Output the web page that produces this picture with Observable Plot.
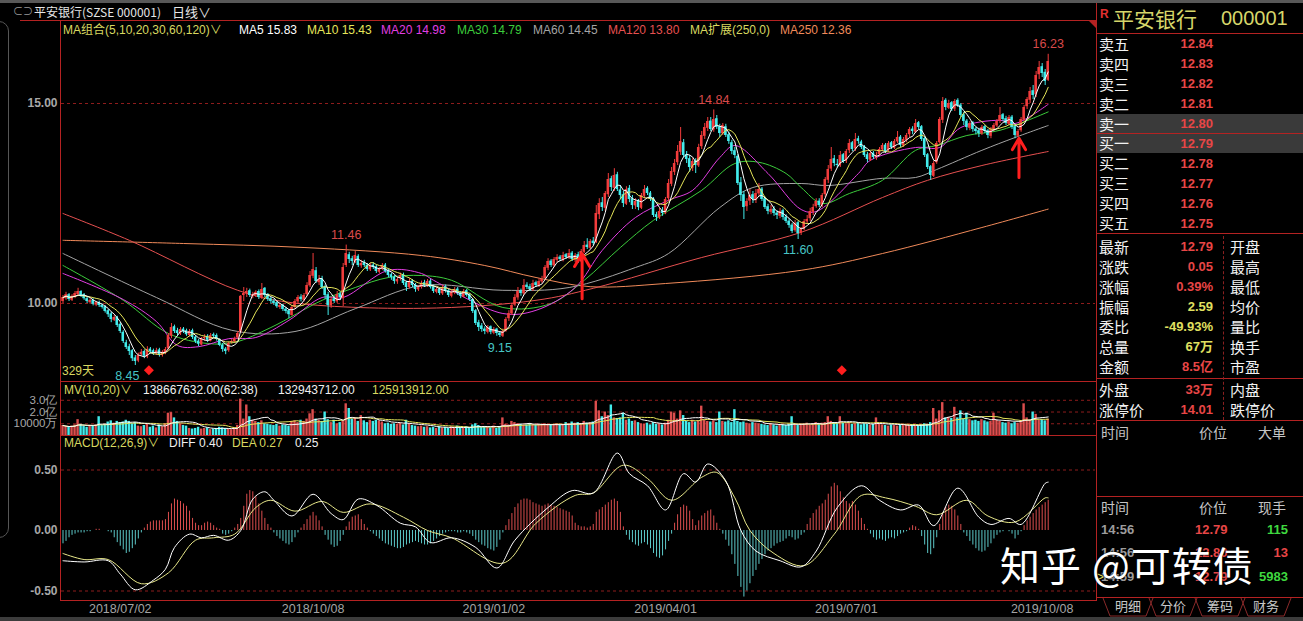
<!DOCTYPE html>
<html><head><meta charset="utf-8">
<script src="https://cdn.jsdelivr.net/npm/d3@7"></script>
<script src="https://cdn.jsdelivr.net/npm/@observablehq/plot@0.6"></script>
<style>
html,body{margin:0;padding:0;background:#000;width:1303px;height:621px;overflow:hidden;}
#root{position:relative;width:1303px;height:621px;background:#000;font-family:"Liberation Sans","Noto Sans CJK SC",sans-serif;overflow:hidden;}
</style></head><body><div id="root"></div>
<script>
// ---------------- DATA ----------------
const open = [
10.05,10.12,10.22,10.08,10.15,10.22,10.30,10.22,10.12,10.02,
10.08,9.96,10.02,9.96,9.92,9.82,9.74,9.58,9.66,9.48,
9.28,9.02,8.92,8.82,8.64,8.56,8.72,8.80,8.66,8.86,
8.82,8.74,8.84,8.70,8.76,8.86,9.18,9.42,9.32,9.24,
9.36,9.32,9.20,9.32,9.16,9.06,8.96,9.12,9.18,9.06,
9.22,9.20,9.10,8.96,8.86,8.82,9.02,9.04,9.14,9.28,
10.20,10.24,10.32,10.18,10.20,10.30,10.14,10.38,10.22,10.12,
10.06,10.02,9.90,9.96,9.86,9.82,9.70,9.90,10.04,10.16,
10.08,10.22,10.44,10.68,10.82,10.52,10.62,10.42,10.22,9.94,
10.12,10.04,10.24,10.12,10.95,11.22,11.12,11.04,11.18,10.94,
11.02,10.96,10.84,10.96,10.92,10.78,10.86,10.96,10.82,10.72,
10.66,10.54,10.62,10.72,10.52,10.40,10.56,10.46,10.34,10.40,
10.52,10.44,10.56,10.42,10.28,10.36,10.24,10.42,10.32,10.18,
10.26,10.36,10.26,10.16,10.32,10.22,10.10,9.82,9.52,9.44,
9.36,9.28,9.42,9.26,9.36,9.26,9.18,9.30,9.62,9.74,
9.96,10.14,10.32,10.24,10.46,10.42,10.34,10.52,10.44,10.54,
10.62,10.88,11.06,10.94,11.08,11.16,11.08,11.22,11.14,11.26,
11.08,11.22,11.04,11.28,11.46,11.38,11.56,11.52,12.22,12.52,
12.38,12.72,13.12,12.88,13.22,12.84,12.72,12.48,12.88,12.62,
12.44,12.56,12.38,12.68,12.88,12.76,12.62,12.22,12.14,12.32,
12.26,12.62,12.98,13.28,13.52,13.78,14.02,13.72,13.62,13.38,
13.56,13.44,13.92,14.18,14.38,14.56,14.34,14.62,14.42,14.24,
14.42,14.22,14.02,13.82,13.68,13.02,12.72,12.42,12.56,12.72,
12.58,12.74,12.86,12.62,12.42,12.28,12.36,12.26,12.18,12.32,
12.16,12.06,11.96,11.82,12.02,11.76,11.86,12.04,12.12,12.28,
12.42,12.56,12.44,12.72,13.08,13.36,13.62,13.48,13.44,13.72,
13.56,13.82,14.02,13.86,14.12,14.04,13.92,13.72,13.58,13.76,
13.64,13.72,13.84,13.96,13.82,14.02,13.88,14.04,14.16,13.94,
14.08,14.22,14.36,14.28,14.52,14.42,14.12,13.72,13.42,13.18,
13.52,14.02,14.58,15.08,14.88,15.02,14.86,15.08,14.96,14.72,
14.56,14.38,14.52,14.36,14.32,14.24,14.42,14.32,14.18,14.34,
14.44,14.56,14.72,14.62,14.48,14.66,14.42,14.18,14.32,14.58,
14.92,15.08,15.32,15.22,15.72,15.92,15.78,15.58];
const close = [
10.15,10.22,10.10,10.18,10.25,10.30,10.20,10.12,10.05,10.08,
9.98,10.02,9.95,9.90,9.80,9.72,9.60,9.65,9.45,9.30,
9.05,8.90,8.80,8.62,8.55,8.70,8.78,8.68,8.85,8.80,
8.75,8.82,8.70,8.78,8.85,9.20,9.40,9.30,9.25,9.35,
9.30,9.22,9.30,9.15,9.05,8.98,9.10,9.15,9.08,9.20,
9.18,9.10,8.95,8.85,8.80,9.00,9.05,9.12,9.25,10.18,
10.25,10.30,10.20,10.22,10.28,10.15,10.35,10.20,10.10,10.05,
10.00,9.92,9.95,9.85,9.80,9.72,9.90,10.05,10.15,10.10,
10.20,10.45,10.70,10.85,10.55,10.60,10.40,10.20,9.95,10.10,
10.05,10.22,10.15,10.90,11.25,11.10,11.05,11.20,10.95,11.00,
10.95,10.85,10.95,10.90,10.80,10.85,10.95,10.80,10.70,10.65,
10.55,10.60,10.70,10.50,10.40,10.55,10.45,10.35,10.40,10.50,
10.45,10.55,10.40,10.30,10.35,10.25,10.40,10.30,10.20,10.28,
10.35,10.25,10.18,10.30,10.20,10.10,9.80,9.50,9.40,9.35,
9.30,9.40,9.28,9.35,9.25,9.20,9.30,9.60,9.75,9.95,
10.15,10.30,10.25,10.45,10.40,10.35,10.50,10.45,10.55,10.60,
10.90,11.05,10.95,11.10,11.15,11.10,11.20,11.15,11.25,11.10,
11.20,11.05,11.30,11.45,11.40,11.55,11.50,12.25,12.50,12.40,
12.75,13.10,12.90,13.20,12.85,12.70,12.50,12.85,12.60,12.45,
12.55,12.40,12.70,12.85,12.75,12.60,12.20,12.15,12.30,12.25,
12.60,13.00,13.30,13.50,13.80,14.05,13.70,13.60,13.40,13.55,
13.45,13.90,14.20,14.40,14.55,14.35,14.60,14.40,14.25,14.45,
14.20,14.05,13.80,13.70,13.00,12.70,12.40,12.55,12.70,12.60,
12.75,12.85,12.60,12.40,12.30,12.35,12.25,12.20,12.30,12.15,
12.05,11.95,11.80,12.00,11.75,11.85,12.05,12.10,12.30,12.40,
12.55,12.45,12.70,13.10,13.35,13.60,13.50,13.45,13.70,13.55,
13.80,14.00,13.85,14.10,14.05,13.90,13.70,13.60,13.75,13.65,
13.70,13.85,13.95,13.80,14.00,13.90,14.05,14.15,13.95,14.10,
14.20,14.35,14.30,14.50,14.40,14.10,13.70,13.40,13.20,13.50,
14.00,14.60,15.05,14.90,15.00,14.85,15.05,14.95,14.70,14.55,
14.40,14.50,14.35,14.30,14.25,14.40,14.30,14.20,14.35,14.45,
14.55,14.70,14.60,14.50,14.65,14.40,14.20,14.30,14.60,14.90,
15.10,15.30,15.20,15.70,15.90,15.75,15.55,16.05];
const high = [
10.20,10.28,10.25,10.22,10.30,10.38,10.32,10.25,10.15,10.12,
10.12,10.05,10.06,9.98,9.95,9.85,9.78,9.70,9.68,9.52,
9.32,9.08,8.98,8.85,8.70,8.76,8.85,8.84,8.92,8.90,
8.86,8.88,8.88,8.82,8.90,9.25,9.50,9.46,9.38,9.40,
9.40,9.36,9.35,9.36,9.20,9.10,9.15,9.22,9.22,9.25,
9.26,9.24,9.12,9.00,8.90,9.04,9.10,9.16,9.30,10.20,
10.40,10.38,10.36,10.28,10.32,10.34,10.50,10.40,10.25,10.15,
10.10,10.06,10.00,9.98,9.90,9.85,9.95,10.10,10.20,10.22,
10.25,10.52,10.80,11.25,10.90,10.70,10.68,10.46,10.28,10.15,
10.18,10.30,10.28,11.00,11.46,11.28,11.18,11.30,11.22,11.08,
11.08,11.00,11.00,11.02,10.96,10.90,11.00,11.00,10.86,10.76,
10.70,10.66,10.76,10.76,10.56,10.62,10.60,10.50,10.45,10.56,
10.58,10.60,10.60,10.46,10.40,10.40,10.45,10.46,10.36,10.32,
10.40,10.40,10.30,10.35,10.35,10.25,10.12,9.85,9.58,9.50,
9.42,9.45,9.44,9.40,9.38,9.30,9.36,9.65,9.82,10.00,
10.22,10.40,10.36,10.60,10.52,10.48,10.58,10.56,10.62,10.68,
10.95,11.12,11.10,11.15,11.22,11.20,11.28,11.25,11.35,11.30,
11.25,11.28,11.35,11.55,11.62,11.60,11.65,12.45,12.62,12.65,
12.80,13.25,13.18,13.37,13.28,12.95,12.80,12.92,12.95,12.70,
12.62,12.60,12.75,12.95,12.92,12.80,12.65,12.28,12.38,12.40,
12.65,13.10,13.40,13.60,13.95,14.40,14.10,13.80,13.70,13.62,
13.62,13.98,14.30,14.50,14.65,14.65,14.84,14.70,14.48,14.50,
14.48,14.28,14.08,13.90,13.72,13.15,12.80,12.62,12.85,12.80,
12.85,13.00,12.90,12.66,12.48,12.45,12.42,12.32,12.38,12.36,
12.22,12.12,12.00,12.08,12.05,11.90,12.10,12.20,12.38,12.48,
12.62,12.62,12.75,13.15,13.45,13.90,13.70,13.60,13.80,13.75,
13.85,14.10,14.05,14.25,14.18,14.08,13.95,13.78,13.80,13.80,
13.78,13.90,14.00,14.00,14.05,14.05,14.10,14.30,14.20,14.15,
14.25,14.40,14.42,14.60,14.55,14.45,14.15,13.75,13.45,13.55,
14.05,14.65,15.15,15.12,15.08,15.05,15.10,15.12,15.00,14.78,
14.60,14.55,14.55,14.40,14.38,14.45,14.45,14.35,14.40,14.50,
14.60,14.90,14.75,14.68,14.70,14.70,14.45,14.35,14.65,14.95,
15.15,15.40,15.45,15.80,16.05,16.00,15.85,16.23];
const low = [
10.00,10.08,10.05,10.05,10.12,10.18,10.15,10.08,10.00,9.98,
9.94,9.92,9.90,9.86,9.76,9.65,9.52,9.55,9.40,9.25,
9.00,8.85,8.70,8.55,8.45,8.52,8.68,8.62,8.62,8.74,
8.70,8.70,8.66,8.66,8.72,8.84,9.12,9.25,9.18,9.20,
9.25,9.18,9.16,9.10,9.00,8.92,8.94,9.06,9.02,9.04,
9.12,9.06,8.92,8.78,8.72,8.78,8.98,9.00,9.10,9.25,
10.05,10.15,10.15,10.12,10.15,10.10,10.10,10.15,10.05,9.98,
9.95,9.88,9.85,9.80,9.74,9.62,9.68,9.86,10.00,10.04,
10.04,10.18,10.40,10.62,10.50,10.45,10.35,10.10,9.70,9.88,
10.00,10.00,10.08,9.92,10.90,11.00,10.95,11.00,10.90,10.88,
10.90,10.80,10.80,10.85,10.75,10.74,10.82,10.76,10.64,10.58,
10.48,10.48,10.56,10.45,10.30,10.36,10.40,10.28,10.30,10.36,
10.40,10.40,10.36,10.25,10.24,10.20,10.20,10.26,10.15,10.14,
10.22,10.20,10.12,10.14,10.16,10.05,9.75,9.45,9.30,9.28,
9.22,9.24,9.22,9.22,9.18,9.15,9.15,9.28,9.55,9.70,
9.92,10.08,10.18,10.20,10.35,10.30,10.30,10.40,10.40,10.50,
10.58,10.82,10.90,10.90,11.02,11.05,11.04,11.10,11.10,11.05,
11.02,11.00,11.02,11.25,11.35,11.34,11.45,11.50,12.10,12.30,
12.30,12.65,12.80,12.80,12.80,12.60,12.40,12.45,12.52,12.35,
12.35,12.32,12.35,12.62,12.70,12.55,12.15,12.05,12.10,12.18,
12.22,12.55,12.92,13.20,13.45,13.70,13.65,13.50,13.28,13.30,
13.25,13.40,13.85,14.10,14.30,14.30,14.28,14.35,14.15,14.20,
14.15,13.98,13.72,13.62,12.95,12.55,12.10,12.30,12.45,12.50,
12.50,12.68,12.55,12.35,12.22,12.22,12.18,12.10,12.12,12.08,
12.00,11.88,11.75,11.78,11.60,11.70,11.82,12.00,12.05,12.20,
12.38,12.40,12.40,12.65,13.00,13.30,13.42,13.38,13.40,13.50,
13.50,13.75,13.80,13.80,13.98,13.85,13.65,13.52,13.55,13.60,
13.58,13.68,13.80,13.75,13.78,13.85,13.85,14.00,13.90,13.90,
14.02,14.15,14.22,14.25,14.35,14.05,13.65,13.35,13.08,13.15,
13.48,13.98,14.50,14.82,14.85,14.80,14.80,14.90,14.65,14.45,
14.32,14.32,14.28,14.22,14.15,14.20,14.25,14.12,14.12,14.30,
14.40,14.50,14.55,14.45,14.45,14.35,14.12,14.15,14.28,14.55,
14.85,15.00,15.10,15.15,15.60,15.65,15.45,15.55];
// volume, in 亿 shares
const volume = [
0.85,0.75,0.70,0.80,0.90,1.35,0.95,0.80,0.70,0.85,
0.80,0.90,1.60,0.85,0.95,1.15,1.25,1.05,1.20,1.10,
1.15,1.30,1.20,1.00,1.10,0.80,0.75,0.85,0.95,0.70,
0.80,0.65,0.90,0.75,1.00,1.90,1.95,1.50,1.20,1.00,
0.85,0.80,0.60,0.55,0.60,0.70,0.55,0.60,0.65,0.50,
0.55,0.60,0.70,0.65,0.60,0.55,0.50,0.65,0.85,3.10,
1.40,2.60,1.60,1.30,1.20,1.10,1.25,1.00,0.95,0.90,
0.85,0.95,0.80,0.90,0.85,0.80,1.20,1.25,1.10,1.30,
1.20,1.40,1.85,2.20,1.40,1.30,1.20,2.00,1.35,1.10,
1.30,1.00,1.10,1.20,2.70,2.30,1.40,1.50,1.20,1.70,
1.25,1.10,1.30,1.20,1.30,1.25,1.15,1.00,1.05,0.95,
1.00,0.95,1.05,0.90,1.30,1.00,0.85,0.80,0.75,0.80,
0.70,0.75,0.65,0.70,0.60,0.75,0.65,0.70,0.60,0.75,
0.65,0.80,0.70,0.60,0.75,0.65,0.90,1.00,0.85,0.70,
0.75,0.70,0.65,0.80,0.60,0.75,1.50,0.95,0.90,1.20,
1.10,1.00,0.95,0.85,0.90,1.00,0.90,0.85,0.95,0.90,
1.00,0.95,0.90,0.85,1.00,0.90,0.95,1.10,1.00,1.15,
1.05,1.10,1.00,1.20,1.05,1.10,1.15,2.90,2.10,1.60,
2.00,1.70,2.60,1.50,1.45,1.50,1.90,1.30,1.40,1.20,
1.25,1.10,1.00,0.95,1.05,0.90,1.10,0.95,1.00,0.90,
1.05,1.30,2.00,1.90,1.40,2.10,1.70,1.20,1.10,1.30,
1.15,1.25,2.50,1.30,1.20,1.15,1.25,1.10,2.00,1.20,
1.15,1.25,1.10,2.20,1.20,1.10,1.15,1.05,1.00,1.10,
1.05,1.00,0.95,0.90,0.85,0.95,0.90,0.80,0.85,0.90,
0.85,0.95,1.60,0.90,0.85,0.95,1.00,1.05,0.90,1.00,
1.10,0.95,1.05,1.10,1.60,1.20,1.10,1.00,1.60,1.05,
1.00,1.10,0.95,1.00,1.05,0.90,1.00,0.95,0.90,0.95,
1.50,1.00,0.90,0.85,0.80,0.90,0.85,0.80,0.90,0.85,
0.95,0.85,0.90,0.80,0.85,0.90,1.00,0.95,1.10,2.30,
1.40,2.10,2.80,1.50,1.55,1.45,2.40,1.50,2.10,1.40,
1.90,1.35,1.25,1.30,1.20,1.35,1.25,1.15,1.20,1.90,
1.30,1.20,1.10,1.05,1.15,1.00,1.10,1.05,1.20,2.70,
1.50,1.30,2.00,1.80,1.30,1.35,1.25,1.39];
// MACD histogram
const macdHist = [
-0.11,-0.09,-0.06,-0.04,-0.03,-0.02,-0.02,-0.02,-0.01,-0.01,
0.00,0.01,0.01,0.00,0.00,-0.01,-0.02,-0.06,-0.10,-0.13,
-0.16,-0.19,-0.18,-0.15,-0.12,-0.07,-0.02,0.02,0.05,0.07,
0.08,0.08,0.08,0.08,0.09,0.15,0.22,0.26,0.25,0.24,
0.22,0.20,0.16,0.10,0.06,0.04,0.04,0.06,0.07,0.06,
0.04,0.02,0.01,-0.03,-0.04,-0.03,-0.01,0.02,0.05,0.10,
0.20,0.30,0.33,0.32,0.28,0.22,0.16,0.10,0.05,0.02,
-0.02,-0.05,-0.07,-0.09,-0.11,-0.12,-0.10,-0.06,-0.02,0.02,
0.05,0.09,0.12,0.15,0.12,0.08,0.03,-0.04,-0.08,-0.12,
-0.14,-0.13,-0.09,-0.04,0.03,0.07,0.11,0.12,0.13,0.09,
0.05,0.02,-0.01,-0.03,-0.05,-0.07,-0.09,-0.11,-0.12,-0.13,
-0.14,-0.15,-0.15,-0.14,-0.12,-0.11,-0.10,-0.09,-0.10,-0.11,
-0.12,-0.12,-0.11,-0.09,-0.07,-0.05,-0.03,-0.02,-0.01,-0.01,
-0.01,-0.02,-0.02,-0.01,-0.02,-0.03,-0.05,-0.08,-0.10,-0.12,
-0.13,-0.15,-0.16,-0.17,-0.14,-0.08,-0.02,0.04,0.09,0.14,
0.19,0.22,0.25,0.26,0.26,0.25,0.23,0.22,0.21,0.20,
0.21,0.22,0.21,0.20,0.19,0.18,0.17,0.16,0.15,0.12,
0.06,0.04,0.03,0.03,0.02,0.03,0.05,0.15,0.17,0.19,
0.21,0.23,0.25,0.26,0.24,0.15,0.03,-0.04,-0.08,-0.10,
-0.12,-0.13,-0.11,-0.10,-0.12,-0.15,-0.19,-0.22,-0.23,-0.21,
-0.16,-0.09,-0.03,0.06,0.13,0.19,0.21,0.20,0.16,0.09,
0.04,0.08,0.12,0.14,0.16,0.17,0.12,0.06,0.01,-0.03,
-0.08,-0.13,-0.20,-0.28,-0.38,-0.47,-0.55,-0.50,-0.44,-0.38,
-0.33,-0.28,-0.24,-0.20,-0.17,-0.15,-0.13,-0.11,-0.10,-0.09,
-0.07,-0.05,-0.06,-0.08,-0.07,-0.04,-0.02,0.05,0.10,0.14,
0.17,0.20,0.22,0.25,0.30,0.36,0.39,0.37,0.32,0.27,
0.24,0.22,0.24,0.21,0.16,0.10,0.05,0.01,-0.03,-0.06,
-0.08,-0.07,-0.08,-0.09,-0.07,-0.06,-0.07,-0.05,-0.03,-0.02,
-0.01,0.02,0.04,0.03,0.01,-0.05,-0.12,-0.19,-0.20,-0.15,
-0.06,0.05,0.14,0.19,0.21,0.20,0.17,0.12,0.05,-0.02,
-0.05,-0.09,-0.12,-0.15,-0.17,-0.18,-0.17,-0.14,-0.11,-0.07,
-0.04,-0.02,-0.01,0.00,-0.01,-0.03,-0.07,-0.04,-0.01,0.04,
0.08,0.11,0.14,0.17,0.19,0.21,0.23,0.25];
// DIFF / DEA read at sample days [day index, value]
const diffPts = [[0,-0.25],[7,-0.26],[15,-0.25],[19,-0.36],[24,-0.49],[30,-0.41],[34,-0.32],[37,-0.14],[42,-0.03],[46,-0.06],[50,-0.04],[55,-0.08],[59,0.0],[63,0.26],[67,0.32],[70,0.25],[76,0.12],[83,0.30],[89,0.14],[93,0.09],[98,0.26],[104,0.21],[112,0.06],[117,0.03],[122,-0.10],[129,-0.06],[137,-0.14],[144,-0.31],[150,-0.08],[161,0.19],[169,0.33],[176,0.31],[184,0.64],[188,0.47],[194,0.37],[200,0.17],[206,0.47],[210,0.40],[214,0.55],[220,0.41],[225,0.0],[230,-0.17],[238,-0.25],[245,-0.30],[250,-0.17],[257,0.19],[265,0.37],[271,0.25],[278,0.17],[284,0.21],[289,0.04],[297,0.35],[304,0.11],[308,0.05],[314,0.10],[318,0.05],[326,0.39],[327,0.40]];
const deaPts = [[0,-0.19],[7,-0.24],[15,-0.24],[26,-0.44],[35,-0.35],[44,-0.08],[50,-0.06],[57,-0.03],[64,0.19],[69,0.25],[77,0.16],[86,0.24],[93,0.15],[102,0.22],[113,0.11],[121,0.0],[129,-0.06],[146,-0.27],[157,0.06],[170,0.29],[176,0.31],[186,0.54],[194,0.43],[202,0.25],[212,0.44],[217,0.48],[223,0.27],[228,0.0],[236,-0.19],[246,-0.29],[256,-0.03],[265,0.29],[273,0.27],[283,0.20],[290,0.13],[300,0.25],[307,0.12],[316,0.07],[326,0.27],[327,0.27]];
// Long moving averages read at sample days [day index, price]
const ma20Pts = [[0,10.75],[20,10.1],[31,9.55],[38,8.95],[45,8.92],[55,9.12],[64,9.15],[75,9.58],[86,10.15],[93,10.15],[108,10.83],[119,10.75],[123,10.58],[146,9.75],[157,9.83],[170,10.4],[179,11.33],[190,12.15],[201,12.58],[209,12.83],[218,13.65],[223,13.95],[234,13.25],[245,12.35],[250,12.3],[264,13.25],[268,13.58],[283,13.9],[291,13.9],[298,14.4],[311,14.58],[316,14.5],[327,14.98]];
const ma30Pts = [[0,10.95],[20,10.08],[35,9.25],[48,9.0],[57,9.03],[69,9.4],[86,10.08],[97,10.4],[108,10.65],[119,10.7],[129,10.58],[146,9.9],[162,10.0],[173,10.58],[185,11.4],[196,12.08],[212,12.83],[223,13.5],[231,13.53],[240,13.25],[245,12.9],[252,12.5],[261,12.75],[272,13.08],[283,13.83],[290,13.95],[300,14.2],[311,14.33],[327,14.79]];
const ma60Pts = [[0,11.25],[31,10.15],[56,9.33],[77,9.3],[97,9.87],[119,10.45],[146,10.33],[168,10.4],[190,10.9],[201,11.25],[218,12.4],[229,12.9],[245,13.0],[254,12.95],[272,13.13],[283,13.15],[290,13.35],[305,13.83],[316,14.15],[327,14.45]];
const ma120Pts = [[0,12.25],[22,11.58],[58,10.33],[75,10.03],[119,9.88],[157,10.08],[176,10.38],[212,11.15],[245,11.78],[272,12.65],[287,13.08],[305,13.45],[327,13.8]];
const ma250Pts = [[0,11.58],[40,11.5],[80,11.4],[119,11.2],[140,10.95],[157,10.65],[175,10.42],[200,10.5],[245,10.83],[272,11.25],[305,11.9],[327,12.36]];
// annotations
const extremeIdx = [24, 94, 145, 216, 244, 327];
const extremeVal = [8.45, 11.46, 9.15, 14.84, 11.60, 16.23];
const extremeIsHigh = [false, true, false, true, false, true];
const extremeShift = [-8, 0, 0, 0, 0, 0];
const arrowIdx = [172.3, 317.3], arrowFrom = [10.12, 13.15], arrowTo = [11.25, 14.13];
const markIdx = [28.5, 258.5];
// ticks
const priceTicks = [10, 15];
const volTicks = [1, 2, 3], volTickLabels = ["10000万", "2.0亿", "3.0亿"];
const macdTicks = [-0.5, 0, 0.5], macdTickLabels = ["-0.50", "0.00", "0.50"];
const dateIdx = [19, 83, 143, 200, 260, 325];
const dateLabels = ["2018/07/02", "2018/10/08", "2019/01/02", "2019/04/01", "2019/07/01", "2019/10/08"];
// legends
const maNames = ["MA5", "MA10", "MA20", "MA30", "MA60", "MA120", "MA250"];
const maValues = [15.83, 15.43, 14.98, 14.79, 14.45, 13.80, 12.36];
const mvValues = ["138667632.00(62:38)", "132943712.00", "125913912.00"];
const macdValues = ["0.40", "0.27", "0.25"];
// side panel
const askLabels = ["卖五","卖四","卖三","卖二","卖一"], askPrices = ["12.84","12.83","12.82","12.81","12.80"];
const bidLabels = ["买一","买二","买三","买四","买五"], bidPrices = ["12.79","12.78","12.77","12.76","12.75"];
const statLabels = ["最新","涨跌","涨幅","振幅","委比","总量","金额"];
const statValues = ["12.79","0.05","0.39%","2.59","-49.93%","67万","8.5亿"];
const statRight = ["开盘","最高","最低","均价","量比","换手","市盈"];
const tickTimes = ["14:56","14:56","14:59"], tickPrices = ["12.79","12.80","12.79"], tickVols = ["115","13","5983"];
const tabLabels = ["明细","分价","筹码","财务"];

// ---------------- LAYOUT ----------------
const root = document.getElementById("root");
const SANS = '"Liberation Sans","Noto Sans CJK SC",sans-serif';
const CJK = '"Noto Sans CJK SC","Liberation Sans",sans-serif';
function el(css, text) { const d = document.createElement("div"); d.style.cssText = css; if (text != null) d.textContent = text; root.appendChild(d); return d; }
function box(x, y, w, h, css) { return el(`position:absolute;left:${x}px;top:${y}px;width:${w}px;height:${h}px;${css}`); }
function T(x, y, s, color, size, extra = "") { return el(`position:absolute;left:${x}px;top:${(y - size * 0.62).toFixed(1)}px;font-size:${size}px;line-height:${(size * 1.24).toFixed(1)}px;color:${color};white-space:nowrap;font-family:${SANS};${extra}`, s); }
function R(xr, y, s, color, size, extra = "") { return el(`position:absolute;right:${1303 - xr}px;top:${(y - size * 0.62).toFixed(1)}px;font-size:${size}px;line-height:${(size * 1.24).toFixed(1)}px;color:${color};white-space:nowrap;font-family:${SANS};text-align:right;${extra}`, s); }
function place(svg, x, y) { svg.style.position = "absolute"; svg.style.left = x + "px"; svg.style.top = y + "px"; svg.style.maxWidth = "none"; root.appendChild(svg); }

const UP = "#f23c3c", DN = "#42ecec";
const HUP = "#dc4e4e", HDN = "#5cc8c8";
const GRID = "#8e1c1c";
const AX = "#a8a8a8";
const xDomain = [-0.5, 342.7];
const baseStyle = {background: "transparent", overflow: "visible", fontFamily: "Liberation Sans, sans-serif", fontSize: "12px"};

const candles = close.map((c, i) => ({i, o: open[i], h: high[i], l: low[i], c, up: c >= open[i]}));
const pts = a => a.map(([i, v]) => ({i, v}));
const extremes = extremeIdx.map((i, k) => ({i, v: extremeVal[k], hi: extremeIsHigh[k], s: extremeShift[k]}));
const maColors = {ma5: "#ffffff", ma10: "#e6e65a", ma20: "#e23ee2", ma30: "#3ccc3c", ma60: "#a4a4a4", ma120: "#e65050", ma250: "#f08a5a"};

// top bar
box(0, 0, 1303, 3, "background:#585858;");
T(13, 12, "⊂⊃", "#9a9a9a", 10);
T(34, 12, "平安银行(SZSE 000001)", "#e6e6e6", 12, `font-family:${CJK};`);
T(172, 12, "日线∨", "#e6e6e6", 13, `font-family:${CJK};`);
// left side rail
box(-20, 21, 27, 515, "border:1px solid #565656;border-radius:0 10px 10px 0;");

// price panel
const price = Plot.plot({
  width: 1096, height: 357, marginLeft: 61, marginRight: 1, marginTop: 0, marginBottom: 0,
  x: {domain: xDomain, axis: null}, y: {domain: [8.125, 17.05], axis: null},
  color: {type: "identity"}, style: baseStyle,
  marks: [
    Plot.ruleY(priceTicks, {stroke: GRID, strokeDasharray: "3,3"}),
    Plot.text(priceTicks, {y: d => d, frameAnchor: "left", text: d => d.toFixed(2), textAnchor: "end", dx: -4, fill: AX, fontWeight: "bold", fontSize: 12}),
    Plot.line(pts(ma250Pts), {x: "i", y: "v", stroke: maColors.ma250, curve: "catmull-rom", strokeWidth: 1}),
    Plot.line(pts(ma120Pts), {x: "i", y: "v", stroke: maColors.ma120, curve: "catmull-rom", strokeWidth: 1}),
    Plot.line(pts(ma60Pts), {x: "i", y: "v", stroke: maColors.ma60, curve: "catmull-rom", strokeWidth: 1}),
    Plot.line(pts(ma30Pts), {x: "i", y: "v", stroke: maColors.ma30, curve: "catmull-rom", strokeWidth: 1}),
    Plot.line(pts(ma20Pts), {x: "i", y: "v", stroke: maColors.ma20, curve: "catmull-rom", strokeWidth: 1}),
    Plot.ruleX(candles, {x: "i", y1: "l", y2: "h", stroke: d => d.up ? UP : DN, strokeWidth: 1}),
    Plot.rect(candles, {x1: d => d.i - 0.42, x2: d => d.i + 0.42, y1: "o", y2: "c", fill: d => d.up ? UP : DN}),
    Plot.lineY(candles, Plot.windowY({k: 10, anchor: "end"}, {x: "i", y: "c", stroke: maColors.ma10, strokeWidth: 1})),
    Plot.lineY(candles, Plot.windowY({k: 5, anchor: "end"}, {x: "i", y: "c", stroke: maColors.ma5, strokeWidth: 1})),
    Plot.text(extremes.filter(d => d.hi), {x: "i", y: "v", text: d => d.v.toFixed(2), dy: -10, fill: "#d84a4a", fontSize: 12.5}),
    Plot.text(extremes.filter(d => !d.hi), {x: d => d.i + d.s / 3.013, y: "v", text: d => d.v.toFixed(2), dy: 10, fill: "#46c4c4", fontSize: 12.5}),
    Plot.arrow(arrowIdx, {x1: d => d, x2: d => d, y1: (d, k) => arrowFrom[k], y2: (d, k) => arrowTo[k], stroke: "#ff1e1e", strokeWidth: 3, headLength: 12}),
    Plot.dot(markIdx, {x: d => d, y: 8.33, symbol: "diamond2", r: 4.5, fill: "#ff1e1e", stroke: "none"})
  ]
});
place(price, 0, 21);

// volume panel
const volData = volume.map((v, i) => ({i, v, up: close[i] >= open[i]}));
const vol = Plot.plot({
  width: 1096, height: 54, marginLeft: 61, marginRight: 1, marginTop: 0, marginBottom: 0,
  x: {domain: xDomain, axis: null}, y: {domain: [0, 4.6], axis: null},
  color: {type: "identity"}, style: baseStyle,
  marks: [
    Plot.ruleY(volTicks, {stroke: GRID, strokeDasharray: "3,3"}),
    Plot.text(volTicks, {y: d => d, frameAnchor: "left", text: (d, k) => volTickLabels[k], textAnchor: "end", dx: -4, fill: AX, fontSize: 11.5}),
    Plot.rect(volData, {x1: d => d.i - 0.4, x2: d => d.i + 0.4, y1: 0, y2: "v", fill: d => d.up ? HUP : DN}),
    Plot.lineY(volData, Plot.windowY({k: 20, anchor: "end"}, {x: "i", y: "v", stroke: "#e6e65a", strokeWidth: 1})),
    Plot.lineY(volData, Plot.windowY({k: 10, anchor: "end"}, {x: "i", y: "v", stroke: "#ffffff", strokeWidth: 1}))
  ]
});
place(vol, 0, 381);

// MACD panel
const histData = macdHist.map((h, i) => ({i, h}));
const macd = Plot.plot({
  width: 1096, height: 185, marginLeft: 61, marginRight: 1, marginTop: 0, marginBottom: 21,
  x: {domain: xDomain, axis: null}, y: {domain: [-0.5785, 0.777], axis: null},
  color: {type: "identity"}, style: baseStyle,
  marks: [
    Plot.ruleY([-0.5, 0.5], {stroke: GRID, strokeDasharray: "3,3"}),
    Plot.text(macdTicks, {y: d => d, frameAnchor: "left", text: (d, k) => macdTickLabels[k], textAnchor: "end", dx: -4, fill: AX, fontWeight: "bold", fontSize: 12}),
    Plot.ruleX(histData, {x: "i", y1: 0, y2: "h", stroke: d => d.h >= 0 ? HUP : HDN, strokeWidth: 1}),
    Plot.line(pts(deaPts), {x: "i", y: "v", stroke: "#e8e88a", curve: "catmull-rom", strokeWidth: 1}),
    Plot.line(pts(diffPts), {x: "i", y: "v", stroke: "#ffffff", curve: "catmull-rom", strokeWidth: 1}),
    Plot.text(dateIdx, {x: d => d, frameAnchor: "bottom", text: (d, k) => dateLabels[k], lineAnchor: "top", dy: 4, fill: "#a4a4a4", fontSize: 12.5})
  ]
});
place(macd, 0, 436);

// frame lines (main area)
const RED = "#b42222";
box(20, 20, 1077, 1, `background:${RED};`);
box(60, 20, 1, 581, `background:${RED};`);
box(60, 381, 1037, 1, `background:${RED};`);
box(60, 435, 1037, 1, `background:${RED};`);
box(60, 600, 1037, 1, `background:${RED};`);
box(1096, 3, 1, 598, `background:${RED};`);
el(`position:absolute;left:1089px;top:21px;width:0;height:0;border-top:7px solid ${RED};border-left:7px solid transparent;`);

// legends
const maLegX = [239, 307, 381, 457, 533, 608, 780];
const maLegC = [maColors.ma5, maColors.ma10, maColors.ma20, maColors.ma30, maColors.ma60, maColors.ma120, maColors.ma250];
T(63, 30, "MA组合(5,10,20,30,60,120)∨", "#d8d860", 12);
maNames.forEach((n, k) => T(maLegX[k], 30, `${n} ${maValues[k].toFixed(2)}`, maLegC[k], 12));
T(690, 30, "MA扩展(250,0)", "#d8d860", 12);
T(62, 371, "329天", "#d8d860", 12);
T(64, 390, "MV(10,20)∨", "#d8d860", 12);
T(143, 390, mvValues[0], "#f0f0f0", 12);
T(278, 390, mvValues[1], "#f0f0f0", 12);
T(372, 390, mvValues[2], "#d8d860", 12);
T(64, 443, "MACD(12,26,9)∨", "#d8d860", 12);
T(169, 443, "DIFF " + macdValues[0], "#f0f0f0", 12);
T(232, 443, "DEA " + macdValues[1], "#d8d860", 12);
T(295, 443, macdValues[2], "#f0f0f0", 12);

// ---------------- side panel ----------------
T(1100, 14, "R", "#e03030", 12, "font-weight:bold;");
T(1113, 18, "平安银行", "#d6d66a", 21, `font-family:${CJK};`);
T(1221, 18, "000001", "#d6d66a", 20);
const PRED = "#e84646", PYEL = "#e0e060", PGRN = "#3fd83f";
box(1097, 114, 206, 39, "background:#3a3a3a;");
[33, 233, 378, 420, 496].forEach(y => box(1097, y, 206, 1, `background:${RED};`));
box(1097, 133, 206, 1, `background:${RED};`);
box(1223, 236, 0, 184, "border-left:1px dashed #8a2020;");
const bookLabels = askLabels.concat(bidLabels), bookPrices = askPrices.concat(bidPrices);
bookLabels.forEach((s, k) => {
  const y = 44 + k * 19.95;
  T(1099, y, s, "#f2f2f2", 15, `font-family:${CJK};`);
  R(1213, y, bookPrices[k], PRED, 13, "font-weight:bold;");
});
const statColors = [PRED, PRED, PRED, PYEL, PYEL, PYEL, PRED];
statLabels.forEach((s, k) => {
  const y = 247 + k * 20;
  T(1099, y, s, "#f2f2f2", 15, `font-family:${CJK};`);
  R(1213, y, statValues[k], statColors[k], 13, "font-weight:bold;");
  T(1230, y, statRight[k], "#f2f2f2", 15, `font-family:${CJK};`);
});
T(1099, 390, "外盘", "#f2f2f2", 15, `font-family:${CJK};`);
R(1213, 390, "33万", PRED, 13, "font-weight:bold;");
T(1230, 390, "内盘", "#f2f2f2", 15, `font-family:${CJK};`);
T(1099, 410, "涨停价", "#f2f2f2", 15, `font-family:${CJK};`);
R(1213, 410, "14.01", PRED, 13, "font-weight:bold;");
T(1230, 410, "跌停价", "#f2f2f2", 15, `font-family:${CJK};`);
[["时间", 1101], ["价位", 1199], ["大单", 1258]].forEach(([s, x]) => T(x, 433, s, "#c4c4c4", 14, `font-family:${CJK};`));
[["时间", 1101], ["价位", 1199], ["现手", 1258]].forEach(([s, x]) => T(x, 508, s, "#c4c4c4", 14, `font-family:${CJK};`));
const tickColors = [PGRN, PRED, PGRN];
tickTimes.forEach((s, k) => {
  const y = 530 + k * 23.5;
  T(1101, y, s, "#9c9c9c", 13, "font-weight:bold;");
  T(1195, y, tickPrices[k], PRED, 13, "font-weight:bold;");
  R(1288, y, tickVols[k], tickColors[k], 13, "font-weight:bold;");
});
T(1097, 577, ">", "#e0e060", 12);
// tabs
const tabSvg = d3.create("svg").attr("width", 206).attr("height", 24).style("position", "absolute").style("left", "1097px").style("top", "597px");
const tabX = [[6, 56], [52, 100], [98, 148], [144, 194]];
tabX.forEach(([a, b], k) => {
  tabSvg.append("path").attr("d", `M${a},1 L${a + 7},19 L${b - 7},19 L${b},1`).attr("fill", "none").attr("stroke", "#8a2a2a");
  tabSvg.append("text").attr("x", (a + b) / 2).attr("y", 14).attr("text-anchor", "middle").attr("fill", "#c8c8c8").attr("font-size", 13).attr("font-family", "Noto Sans CJK SC").text(tabLabels[k]);
});
root.appendChild(tabSvg.node());
box(0, 617, 1303, 4, "background:#3c3c3c;");
box(1097, 597, 206, 1, `background:${RED};`);
// watermark (drawn over the tick list, as in the reference)
T(1000, 565, "知乎 @可转债", "#ffffff", 40, `font-family:${CJK};letter-spacing:1px;text-shadow:0 0 2px #000;`);
</script></body></html>
